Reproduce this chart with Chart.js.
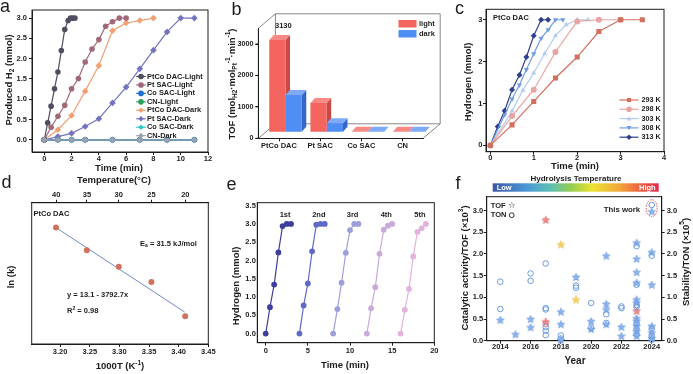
<!DOCTYPE html>
<html>
<head>
<meta charset="utf-8">
<script src="https://cdn.jsdelivr.net/npm/chart.js@4.4.1/dist/chart.umd.min.js"></script>
<style>
    html, body { margin: 0; padding: 0; background: #fff; }
    #figure { position: relative; width: 693px; height: 374px; overflow: hidden; }
    #figure canvas { position: absolute; left: 0; top: 0; }
</style>
</head>
<body>
<div id="figure">
    <canvas id="panelA" width="693" height="374"></canvas>
    <canvas id="panelB" width="693" height="374"></canvas>
    <canvas id="panelC" width="693" height="374"></canvas>
    <canvas id="panelD" width="693" height="374"></canvas>
    <canvas id="panelE" width="693" height="374"></canvas>
    <canvas id="panelF" width="693" height="374"></canvas>
    <canvas id="overlay" width="693" height="374"></canvas>
</div>
<script>
// ---- a: produced H2 vs time, light / dark ----
const aTimePtCoLight = [0, 0.25, 0.5, 0.75, 1, 1.25, 1.5, 1.75, 1.92, 2.08, 2.25];
const aH2PtCoLight = [0, 0.42, 0.83, 1.26, 1.67, 2.2, 2.72, 2.94, 3.0, 3.0, 3.0];
const aTimePtLight = [0, 0.5, 1, 1.5, 2, 2.5, 3, 3.5, 4, 4.5, 5, 5.5, 6];
const aH2PtLight = [0, 0.31, 0.58, 0.85, 1.26, 1.51, 1.92, 2.24, 2.47, 2.8, 2.91, 3.0, 3.0];
const aTimePtCoDark = [0, 1, 2, 3, 4, 5, 6, 7, 8];
const aH2PtCoDark = [0, 0.25, 0.6, 1.2, 1.83, 2.69, 2.88, 2.94, 3.0];
const aTimePtDark = [0, 1, 2, 3, 4, 5, 6, 7, 8, 9, 10, 11];
const aH2PtDark = [0, 0.08, 0.16, 0.33, 0.52, 0.91, 1.3, 1.75, 2.21, 2.66, 3.0, 3.0];
const aTimeInactive = [0, 1, 2, 3, 5, 7, 9, 11];
const aH2Inactive = [0, 0, 0, 0, 0, 0, 0, 0];
const aTimeTicks = [0, 2, 4, 6, 8, 10, 12];
const aH2Ticks = [0, 0.5, 1, 1.5, 2, 2.5, 3];

// ---- b: TOF bars ----
const bCatalysts = ['PtCo DAC', 'Pt SAC', 'Co SAC', 'CN'];
const bTofLight = [3130, 1120, 0, 0];
const bTofDark = [1380, 480, 0, 0];
const bTofTicks = [0, 1000, 2000, 3000];

// ---- c: H2 vs time at several temperatures ----
const cTime293 = [0, 0.5, 1, 1.5, 2, 2.5, 3, 3.5];
const cH2293 = [0, 0.49, 1.05, 1.61, 2.11, 2.72, 3.0, 3.0];
const cTime298 = [0, 0.5, 1, 1.5, 2, 2.5, 3];
const cH2298 = [0, 0.7, 1.33, 2.23, 2.96, 3.0, 3.0];
const cTime303 = [0, 0.5, 0.75, 1, 1.25, 1.5, 1.75, 2, 2.25];
const cH2303 = [0, 0.82, 1.32, 1.73, 2.19, 2.62, 2.88, 3.0, 3.0];
const cTime308 = [0, 0.33, 0.5, 0.67, 0.83, 1, 1.17, 1.33, 1.5, 1.67];
const cH2308 = [0, 0.73, 1.11, 1.44, 1.81, 2.19, 2.56, 2.76, 3.0, 3.0];
const cTime313 = [0, 0.17, 0.33, 0.5, 0.67, 0.83, 1, 1.17, 1.33];
const cH2313 = [0, 0.45, 0.83, 1.33, 1.68, 2.11, 2.62, 3.0, 3.0];
const cTimeTicks = [0, 1, 2, 3, 4];
const cH2Ticks = [0, 1, 2, 3];

// ---- d: Arrhenius plot ----
const dInvT = [3.193, 3.245, 3.299, 3.354, 3.411];
const dLnK = [0.98, 0.76, 0.6, 0.45, 0.12];
const dFitInvT = [3.19, 3.41];
const dFitLnK = [0.99, 0.16];
const dInvTTicks = [3.2, 3.25, 3.3, 3.35, 3.4, 3.45];
const dTempTicks = [40, 35, 30, 25, 20];

// ---- e: recycling runs ----
const eCycles = ['1st', '2nd', '3rd', '4th', '5th'];
const eTime1 = [0, 0.5, 1, 1.5, 2, 2.5, 3];
const eH21 = [0, 0.72, 1.34, 2.22, 2.94, 3.0, 3.0];
const eTime2 = [4, 4.5, 5, 5.5, 6, 6.5, 7];
const eH22 = [0, 0.77, 1.37, 2.25, 2.98, 3.0, 3.0];
const eTime3 = [8, 8.5, 9, 9.5, 10, 10.5, 11];
const eH23 = [0, 0.67, 1.39, 2.21, 2.83, 3.0, 3.0];
const eTime4 = [12, 12.5, 13, 13.5, 14, 14.5, 15];
const eH24 = [0, 0.69, 1.27, 2.18, 2.84, 2.95, 3.0];
const eTime5 = [16, 16.5, 17, 17.5, 18, 18.5, 19];
const eH25 = [0, 0.65, 1.22, 2.11, 2.78, 2.88, 3.0];
const eTimeTicks = [0, 5, 10, 15, 20];
const eH2Ticks = [0, 0.5, 1, 1.5, 2, 2.5, 3, 3.5];

// ---- f: literature comparison (TOF x10^3, TON x10^5) ----
const fTofBlueYear = [2014, 2015, 2016, 2016, 2018, 2018, 2018, 2019, 2020, 2020, 2021, 2021, 2021, 2021, 2022, 2022,
    2023, 2023, 2023, 2023, 2023, 2023, 2023, 2023, 2023, 2023, 2023, 2024, 2024, 2024, 2024, 2024];
const fTofBlueVal = [0.48, 0.15, 0.5, 0.31, 0.67, 0.38, 0.02, 1.47, 0.45, 0.27, 1.96, 0.85, 0.72, 0.38, 0.32, 0.11,
    2.26, 1.89, 1.58, 1.34, 0.95, 0.88, 0.52, 0.46, 0.34, 0.22, 0.11, 2.04, 1.29, 0.34, 0.19, 0.06];
const fTonBlueYear = [2014, 2014, 2016, 2016, 2017, 2017, 2017, 2017, 2017, 2017, 2018, 2018, 2019, 2019, 2020, 2020,
    2021, 2021, 2022, 2022, 2023, 2023, 2023, 2023, 2023, 2023, 2023, 2024, 2024, 2024, 2024];
const fTonBlueVal = [1.36, 0.73, 1.55, 1.38, 1.78, 0.75, 0.72, 0.31, 0.23, 0.13, 0.12, 0.05, 1.27, 1.22, 0.87, 0.3,
    0.61, 0.41, 0.79, 0.75, 2.18, 1.29, 0.82, 0.78, 0.4, 0.28, 0.15, 1.96, 0.28, 0.12, 0.02];
const fTofRedYear = [2017, 2017, 2023];
const fTofRedVal = [2.79, 0.44, 0.69];
const fTonRedYear = [2017];
const fTonRedVal = [0.39];
const fTofYellowYear = [2018, 2019];
const fTofYellowVal = [2.22, 0.95];
const fThisWorkYear = [2024];
const fThisWorkTon = [3.13];
const fThisWorkTof = [2.98];
const fYearTicks = [2014, 2016, 2018, 2020, 2022, 2024];
const fValueTicks = [0, 0.5, 1, 1.5, 2, 2.5, 3];

const FONT = '"Liberation Sans", Arial, "DejaVu Sans", sans-serif';
const INK = '#1c1c1c';
const PAGE_W = 693;
const PAGE_H = 374;

Chart.defaults.font.family = FONT;
Chart.defaults.font.weight = 'bold';
Chart.defaults.font.size = 7.5;
Chart.defaults.color = INK;
Chart.defaults.animation = false;
Chart.defaults.responsive = false;
Chart.defaults.plugins.legend.display = false;
Chart.defaults.plugins.tooltip.enabled = false;

const fixed1 = v => v.toFixed(1);
const fixed2 = v => v.toFixed(2);
const plain = v => String(v);

/**
 * Zip two arrays into {x, y} points
 */
function pts(xs, ys) {
    return xs.map((x, i) => ({ x: x, y: ys[i] }));
}

/**
 * Layout padding that puts the plot area at page coordinates (axes have fixed thickness)
 */
function placeArea(left, top, right, bottom, axes) {
    return {
        left: left - (axes.left || 0),
        top: top - (axes.top || 0),
        right: PAGE_W - right - (axes.right || 0),
        bottom: PAGE_H - bottom - (axes.bottom || 0)
    };
}

/**
 * Linear axis with fixed tick list and fixed thickness
 */
function linAxis(position, min, max, ticks, size, fmt, pad, tickLen, fontSize) {
    return {
        type: 'linear',
        display: true,
        position: position,
        min: min,
        max: max,
        afterBuildTicks: scale => { scale.ticks = ticks.map(v => ({ value: v })); },
        afterFit: scale => {
            if (scale.isHorizontal()) scale.height = size; else scale.width = size;
        },
        grid: { drawOnChartArea: false, tickLength: tickLen === undefined ? 3 : tickLen, color: INK, lineWidth: 1 },
        border: { color: INK, width: 1 },
        ticks: {
            display: true, padding: pad, autoSkip: false, maxRotation: 0, callback: fmt,
            font: { size: fontSize || 7.5, weight: 'bold' }
        }
    };
}

/**
 * Text with sub/superscript pieces; parts are strings or [text, 'sub'|'sup']
 */
function richText(ctx, parts, x, y, size, opt) {
    opt = opt || {};
    const weight = opt.weight || 'bold';
    const pieces = parts.map(p => typeof p === 'string'
        ? { text: p, size: size, shift: 0 }
        : { text: p[0], size: size * 0.68, shift: p[1] === 'sub' ? size * 0.3 : -size * 0.38 });
    let total = 0;
    pieces.forEach(p => {
        ctx.font = `${weight} ${p.size}px ${FONT}`;
        p.width = ctx.measureText(p.text).width;
        total += p.width;
    });
    ctx.save();
    ctx.translate(x, y);
    if (opt.rotate) ctx.rotate(-Math.PI / 2);
    ctx.fillStyle = opt.color || INK;
    ctx.textBaseline = 'middle';
    ctx.textAlign = 'left';
    let cx = opt.align === 'left' ? 0 : opt.align === 'right' ? -total : -total / 2;
    pieces.forEach(p => {
        ctx.font = `${weight} ${p.size}px ${FONT}`;
        ctx.fillText(p.text, cx, p.shift);
        cx += p.width;
    });
    ctx.restore();
}

/**
 * Marker shape for hand-drawn legends
 */
function marker(ctx, style, x, y, r, color, rotation) {
    ctx.save();
    ctx.translate(x, y);
    ctx.rotate((rotation || 0) * Math.PI / 180);
    ctx.beginPath();
    if (style === 'rect') {
        ctx.rect(-r * 0.75, -r * 0.75, r * 1.5, r * 1.5);
    } else if (style === 'rectRot') {
        ctx.moveTo(0, -r); ctx.lineTo(r, 0); ctx.lineTo(0, r); ctx.lineTo(-r, 0); ctx.closePath();
    } else if (style === 'triangle') {
        for (let k = 0; k < 3; k++) {
            const a = -Math.PI / 2 + k * 2 * Math.PI / 3;
            ctx.lineTo(r * Math.cos(a), r * Math.sin(a) + r * 0.15);
        }
        ctx.closePath();
    } else {
        ctx.arc(0, 0, r, 0, Math.PI * 2);
    }
    ctx.fillStyle = color;
    ctx.fill();
    ctx.restore();
}

/**
 * Legend built from the chart's datasets: line + marker + label
 */
function lineLegend(chart, x, y, step, half, textX, size) {
    const ctx = chart.ctx;
    chart.data.datasets.forEach((ds, i) => {
        const yy = y + i * step;
        ctx.strokeStyle = ds.borderColor;
        ctx.lineWidth = 1.2;
        ctx.beginPath();
        ctx.moveTo(x - half, yy);
        ctx.lineTo(x + half, yy);
        ctx.stroke();
        marker(ctx, ds.pointStyle, x, yy, 2.8, ds.borderColor, ds.pointRotation);
        richText(ctx, [ds.label], textX, yy, size, { align: 'left' });
    });
}

/**
 * Filled five-point star used as point style
 */
function starImage(fill, stroke, r) {
    const c = document.createElement('canvas');
    const s = Math.ceil(r * 2 + 2);
    c.width = s;
    c.height = s;
    const g = c.getContext('2d');
    g.beginPath();
    for (let i = 0; i < 10; i++) {
        const rad = i % 2 ? r * 0.45 : r;
        const a = -Math.PI / 2 + i * Math.PI / 5;
        g.lineTo(s / 2 + rad * Math.cos(a), s / 2 + rad * Math.sin(a) + 0.4);
    }
    g.closePath();
    g.fillStyle = fill;
    g.fill();
    g.strokeStyle = stroke;
    g.lineWidth = 0.7;
    g.stroke();
    return c;
}

// Box around the plot area (Origin style)
const frame = {
    id: 'frame',
    beforeDatasetsDraw(chart) {
        const { ctx, chartArea: a } = chart;
        ctx.save();
        ctx.strokeStyle = INK;
        ctx.lineWidth = 1;
        ctx.strokeRect(a.left, a.top, a.right - a.left, a.bottom - a.top);
        ctx.restore();
    }
};

function decor(fn) {
    return { id: 'decor', afterDraw: chart => fn(chart.ctx, chart) };
}

function panelLetter(ctx, letter, x, y) {
    richText(ctx, [letter], x, y, 18, { weight: 'normal', align: 'left' });
}

/* ================= a ================= */
const A_COLORS = ['#4e4e60', '#a06878', '#1f6fd8', '#2aa05a', '#f2a070', '#7373c0', '#2cc8c8', '#9aa2ae'];

function aSeries(label, xs, ys, color, style, order) {
    return {
        label: label, data: pts(xs, ys), borderColor: color, backgroundColor: color,
        borderWidth: 1.2, pointStyle: style, pointRadius: style === 'rectRot' ? 3.3 : 2.8,
        pointBorderWidth: 0, tension: 0, order: order || 0
    };
}

new Chart(document.getElementById('panelA'), {
    type: 'line',
    data: {
        datasets: [
            aSeries('PtCo DAC-Light', aTimePtCoLight, aH2PtCoLight, A_COLORS[0], 'circle'),
            aSeries('Pt SAC-Light', aTimePtLight, aH2PtLight, A_COLORS[1], 'circle'),
            aSeries('Co SAC-Light', aTimeInactive, aH2Inactive, A_COLORS[2], 'circle'),
            aSeries('CN-Light', aTimeInactive, aH2Inactive, A_COLORS[3], 'circle'),
            aSeries('PtCo DAC-Dark', aTimePtCoDark, aH2PtCoDark, A_COLORS[4], 'rectRot'),
            aSeries('Pt SAC-Dark', aTimePtDark, aH2PtDark, A_COLORS[5], 'rectRot'),
            aSeries('Co SAC-Dark', aTimeInactive, aH2Inactive, A_COLORS[6], 'rectRot'),
            aSeries('CN-Dark', aTimeInactive, aH2Inactive, A_COLORS[7], 'rectRot', -1)
        ]
    },
    options: {
        layout: { padding: placeArea(32, 10, 208, 152, { left: 16, bottom: 12 }) },
        scales: {
            x: linAxis('bottom', -0.9, 12, aTimeTicks, 12, plain, -1),
            y: linAxis('left', -0.3, 3.2, aH2Ticks, 16, fixed1, 2)
        }
    },
    plugins: [frame, decor((ctx, chart) => {
        panelLetter(ctx, 'a', 0, 7);
        richText(ctx, ['Produced H', ['2', 'sub'], ' (mmol)'], 9, 80, 9.5, { rotate: true });
        richText(ctx, ['Time (min)'], 119, 168, 9.5);
        lineLegend(chart, 141, 76.5, 8.45, 4.8, 147, 7.4);
    })]
});

/* ================= b ================= */
const B_SHADES = [
    { front: '#f4655f', side: '#c84a47', top: '#f88a86' },
    { front: '#4f8ef5', side: '#3467c8', top: '#7eaaf8' }
];
const BAR_SHIFT = 6.5;    // bars stand half way into the 3D box
const FLOOR_LIFT = 6.6;
const FACE_DX = 4.5;
const FACE_DY = -5;
const BOX_DX = 17;
const BOX_DY = -14.5;

const bars3d = {
    id: 'bars3d',
    beforeDatasetsDraw(chart) {
        const { ctx, chartArea: a, scales: { y } } = chart;
        const floor = y.getPixelForValue(0) - FLOOR_LIFT;
        // back walls of the 3D box
        ctx.save();
        ctx.strokeStyle = '#6a6a6a';
        ctx.lineWidth = 0.8;
        ctx.beginPath();
        ctx.moveTo(a.left, a.top); ctx.lineTo(a.left + BOX_DX, a.top + BOX_DY);
        ctx.lineTo(a.right + BOX_DX, a.top + BOX_DY); ctx.lineTo(a.right + BOX_DX, a.bottom + BOX_DY);
        ctx.lineTo(a.left + BOX_DX, a.bottom + BOX_DY); ctx.lineTo(a.left + BOX_DX, a.top + BOX_DY);
        ctx.moveTo(a.left, a.bottom); ctx.lineTo(a.left + BOX_DX, a.bottom + BOX_DY);
        ctx.moveTo(a.right, a.bottom); ctx.lineTo(a.right + BOX_DX, a.bottom + BOX_DY);
        ctx.stroke();
        ctx.restore();

        ctx.save();
        ctx.translate(BAR_SHIFT, 0);
        chart.data.labels.forEach((_, i) => {
            chart.data.datasets.forEach((ds, d) => {
                const el = chart.getDatasetMeta(d).data[i];
                const left = el.x - el.width / 2;
                const right = el.x + el.width / 2;
                const top = Math.min(el.y, floor);
                ctx.fillStyle = B_SHADES[d].side;
                ctx.beginPath();
                ctx.moveTo(right, top); ctx.lineTo(right + FACE_DX, top + FACE_DY);
                ctx.lineTo(right + FACE_DX, floor + FACE_DY); ctx.lineTo(right, floor);
                ctx.closePath();
                ctx.fill();
                ctx.fillStyle = B_SHADES[d].top;
                ctx.beginPath();
                ctx.moveTo(left, top); ctx.lineTo(left + FACE_DX, top + FACE_DY);
                ctx.lineTo(right + FACE_DX, top + FACE_DY); ctx.lineTo(right, top);
                ctx.closePath();
                ctx.fill();
            });
        });
        ctx.beginPath();
        ctx.rect(a.left - 20, a.top - 20, a.right - a.left + 40, floor - a.top + 20);
        ctx.clip();
    },
    afterDatasetsDraw(chart) {
        chart.ctx.restore();
    }
};

const bValueAxis = linAxis('left', 0, 3500, bTofTicks, 22, plain, 2, 3, 7);
bValueAxis.ticks.display = false;   // value labels go on the overlay canvas

new Chart(document.getElementById('panelB'), {
    type: 'bar',
    data: {
        labels: bCatalysts,
        datasets: [
            { label: 'light', data: bTofLight, backgroundColor: B_SHADES[0].front },
            { label: 'dark', data: bTofDark, backgroundColor: B_SHADES[1].front }
        ]
    },
    options: {
        layout: { padding: placeArea(258.4, 28.3, 423.2, 138.3, { left: 22, bottom: 12 }) },
        datasets: { bar: { categoryPercentage: 0.79, barPercentage: 1 } },
        scales: {
            x: {
                afterFit: scale => { scale.height = 12; },
                grid: { drawOnChartArea: false, offset: false, tickLength: 3, color: INK },
                border: { color: INK, width: 1 },
                ticks: { padding: 0, maxRotation: 0, autoSkip: false }
            },
            y: bValueAxis
        }
    },
    plugins: [bars3d, decor((ctx, chart) => {
        const { y } = chart.scales;
        const a = chart.chartArea;
        panelLetter(ctx, 'b', 231.5, 10.4);
        // value axis line, ticks and labels on the top canvas
        const over = document.getElementById('overlay').getContext('2d');
        over.save();
        over.strokeStyle = INK;
        over.lineWidth = 1;
        over.beginPath();
        over.moveTo(a.left, a.top);
        over.lineTo(a.left, a.bottom);
        bTofTicks.forEach(v => {
            over.moveTo(a.left - 3, y.getPixelForValue(v));
            over.lineTo(a.left, y.getPixelForValue(v));
        });
        over.stroke();
        over.restore();
        bTofTicks.forEach(v => {
            richText(over, [plain(v)], a.left - 5, y.getPixelForValue(v), 7.2, { align: 'right' });
        });
        richText(ctx, ['TOF (mol', ['H2', 'sub'], '·mol', ['Pt', 'sub'], ['-1', 'sup'], '·min', ['-1', 'sup'], ')'],
            232, 84, 9.5, { rotate: true });
        const top = chart.getDatasetMeta(0).data[0];
        richText(ctx, [String(bTofLight[0])], top.x + BAR_SHIFT + 6, top.y - 14, 7.5);
        chart.data.datasets.forEach((ds, i) => {
            ctx.fillStyle = ds.backgroundColor;
            ctx.fillRect(398.5, 20 + i * 10, 18, 7.5);
            richText(ctx, [ds.label], 419, 23.8 + i * 10, 7.5, { align: 'left' });
        });
    })]
});

/* ================= c ================= */
function cSeries(label, xs, ys, color, style, rotation) {
    return {
        label: label, data: pts(xs, ys), borderColor: color, backgroundColor: color,
        borderWidth: 1.2, pointStyle: style, pointRotation: rotation || 0,
        pointRadius: style === 'rect' ? 3.6 : 3, pointBorderWidth: 0, tension: 0
    };
}

new Chart(document.getElementById('panelC'), {
    type: 'line',
    data: {
        datasets: [
            cSeries('293 K', cTime293, cH2293, '#d2705f', 'rect'),
            cSeries('298 K', cTime298, cH2298, '#eaa3a3', 'circle'),
            cSeries('303 K', cTime303, cH2303, '#b4cdef', 'triangle'),
            cSeries('308 K', cTime308, cH2308, '#6f9ce2', 'triangle', 180),
            cSeries('313 K', cTime313, cH2313, '#2f3f8c', 'rectRot')
        ]
    },
    options: {
        layout: { padding: placeArea(486, 9.3, 664, 151.7, { left: 14, bottom: 12 }) },
        scales: {
            x: linAxis('bottom', -0.1, 4, cTimeTicks, 12, plain, -1),
            y: linAxis('left', -0.15, 3.25, cH2Ticks, 14, plain, 0.5)
        }
    },
    plugins: [frame, decor((ctx, chart) => {
        panelLetter(ctx, 'c', 455, 8.7);
        richText(ctx, ['Hydrogen (mmol)'], 468, 82, 9.5, { rotate: true });
        richText(ctx, ['Time (min)'], 575, 166, 9.5);
        richText(ctx, ['PtCo DAC'], 493, 17.5, 7.5, { align: 'left' });
        lineLegend(chart, 629, 100, 9.3, 9.5, 641.5, 7.2);
    })]
});

/* ================= d ================= */
new Chart(document.getElementById('panelD'), {
    type: 'line',
    data: {
        datasets: [
            {
                data: pts(dInvT, dLnK), showLine: false, pointRadius: 3, pointBorderWidth: 0,
                backgroundColor: '#cf7260', borderColor: '#cf7260'
            },
            {
                data: pts(dFitInvT, dFitLnK), pointRadius: 0, borderColor: '#6f88c8', borderWidth: 1
            }
        ]
    },
    options: {
        layout: { padding: placeArea(31.7, 202.7, 208.3, 344, { top: 12, bottom: 12 }) },
        scales: {
            x: linAxis('bottom', 3.152, 3.45, dInvTTicks, 12, fixed2, 0.5),
            x2: Object.assign(linAxis('top', 3.152, 3.45, [], 12, v => String(Math.round(1000 / v - 273.15)), 0.5), {
                afterBuildTicks: scale => { scale.ticks = dTempTicks.map(t => ({ value: 1000 / (t + 273.15) })); }
            }),
            y: { display: false, min: -0.15, max: 1.22 }
        }
    },
    plugins: [frame, decor(ctx => {
        panelLetter(ctx, 'd', 1.5, 182.7);
        richText(ctx, ['Temperature(°C)'], 114, 180.5, 9.5);
        richText(ctx, ['1000T (K', ['-1', 'sup'], ')'], 120, 366.5, 9.5);
        richText(ctx, ['ln (k)'], 11, 277, 9.5, { rotate: true });
        richText(ctx, ['PtCo DAC'], 33.5, 213.5, 7.5, { align: 'left' });
        richText(ctx, ['E', ['a', 'sub'], ' = 31.5 kJ/mol'], 140, 243.5, 7.5, { align: 'left' });
        richText(ctx, ['y = 13.1 - 3792.7x'], 67, 295, 7.5, { align: 'left' });
        richText(ctx, ['R', ['2', 'sup'], ' = 0.98'], 67, 311, 7.5, { align: 'left' });
    })]
});

/* ================= e ================= */
const E_COLORS = ['#3d3d9c', '#5f69c6', '#9d9fda', '#c9aadb', '#e3b3dd'];
const eTimes = [eTime1, eTime2, eTime3, eTime4, eTime5];
const eH2s = [eH21, eH22, eH23, eH24, eH25];

new Chart(document.getElementById('panelE'), {
    type: 'line',
    data: {
        datasets: eCycles.map((name, i) => ({
            label: name, data: pts(eTimes[i], eH2s[i]), borderColor: E_COLORS[i], backgroundColor: E_COLORS[i],
            borderWidth: 1.2, pointRadius: 2.9, pointBorderWidth: 0, tension: 0
        }))
    },
    options: {
        layout: { padding: placeArea(257.3, 202.7, 434.3, 342.7, { left: 16, bottom: 12 }) },
        scales: {
            x: linAxis('bottom', -1, 20, eTimeTicks, 12, plain, 0.5),
            y: linAxis('left', -0.25, 3.58, eH2Ticks, 16, fixed1, 1.5, 0)
        }
    },
    plugins: [frame, decor((ctx, chart) => {
        panelLetter(ctx, 'e', 226.5, 185.4);
        richText(ctx, ['Hydrogen (mmol)'], 236, 286, 9.5, { rotate: true });
        richText(ctx, ['Time (min)'], 345, 365, 9.5);
        const { x, y } = chart.scales;
        eCycles.forEach((name, i) => {
            richText(ctx, [name], x.getPixelForValue(eTimes[i][0] + 2.3), y.getPixelForValue(3.25), 7.5);
        });
    })]
});

/* ================= f ================= */
const F_BLUE = '#6b9be2';
const starBlue = starImage('#8db4ec', '#6b9be2', 4);
const starRed = starImage('#ee8c8a', '#e06a68', 4);
const starYellow = starImage('#f3d56c', '#e6bf48', 4);

function ring(xs, ys, color) {
    return {
        data: pts(xs, ys), pointStyle: 'circle', pointRadius: 2.8, borderWidth: 1,
        borderColor: color, backgroundColor: 'rgba(255,255,255,0)'
    };
}

function stars(xs, ys, img) {
    return { data: pts(xs, ys), pointStyle: img, pointRadius: 4 };
}

new Chart(document.getElementById('panelF'), {
    type: 'scatter',
    data: {
        datasets: [
            ring(fTonBlueYear, fTonBlueVal, F_BLUE),
            stars(fTofBlueYear, fTofBlueVal, starBlue),
            ring(fTonRedYear, fTonRedVal, '#e27c7a'),
            stars(fTofRedYear, fTofRedVal, starRed),
            stars(fTofYellowYear, fTofYellowVal, starYellow),
            ring(fThisWorkYear, fThisWorkTon, F_BLUE),
            stars(fThisWorkYear, fThisWorkTof, starBlue)
        ]
    },
    options: {
        layout: { padding: placeArea(486.7, 196.7, 661.7, 340.7, { left: 16, right: 16, bottom: 12 }) },
        datasets: { scatter: { clip: false } },
        scales: {
            x: linAxis('bottom', 2013.1, 2024.66, fYearTicks, 12, plain, -1),
            y: linAxis('left', 0, 3.32, fValueTicks, 16, fixed1, 0.5),
            y2: linAxis('right', 0, 3.32, fValueTicks, 16, fixed1, 2)
        }
    },
    plugins: [frame, decor((ctx, chart) => {
        const a = chart.chartArea;
        panelLetter(ctx, 'f', 455.5, 183.7);
        // temperature colour bar
        richText(ctx, ['Hydrolysis Temperature'], 576, 178.5, 8);
        const g = ctx.createLinearGradient(a.left + 6, 0, a.right - 3, 0);
        g.addColorStop(0, '#3b56a6');
        g.addColorStop(0.2, '#4a98d6');
        g.addColorStop(0.35, '#5ec0b4');
        g.addColorStop(0.47, '#93cc4e');
        g.addColorStop(0.6, '#ece232');
        g.addColorStop(0.76, '#f2a83a');
        g.addColorStop(0.9, '#ec5a42');
        g.addColorStop(1, '#e0284e');
        ctx.fillStyle = g;
        ctx.fillRect(a.left + 6, a.top - 13.4, a.right - a.left - 9, 8.4);
        richText(ctx, ['Low'], a.left + 10, a.top - 9.2, 7.5, { align: 'left', color: '#fff' });
        richText(ctx, ['High'], a.right - 6, a.top - 9.2, 7.5, { align: 'right', color: '#fff' });

        richText(ctx, ['Catalytic activity/TOF (×10', ['3', 'sup'], ')'], 465, 268, 9.5, { rotate: true });
        richText(ctx, ['Stability/TON (×10', ['5', 'sup'], ')'], 686, 262, 9.5, { rotate: true });
        richText(ctx, ['Year'], 575, 361.5, 10);

        richText(ctx, ['TOF'], a.left + 4, a.top + 9.5, 7.5, { align: 'left' });
        richText(ctx, ['TON'], a.left + 4, a.top + 18.5, 7.5, { align: 'left' });
        ctx.fillStyle = INK;
        ctx.textBaseline = 'middle';
        ctx.textAlign = 'center';
        ctx.font = '8.5px "DejaVu Sans"';
        ctx.fillText('☆', a.left + 25, a.top + 9.3);
        ctx.strokeStyle = INK;
        ctx.lineWidth = 0.9;
        ctx.beginPath();
        ctx.arc(a.left + 25, a.top + 18.5, 2.4, 0, Math.PI * 2);
        ctx.stroke();

        // "This work" marker
        const { x, y } = chart.scales;
        const cx = x.getPixelForValue(fThisWorkYear[0]);
        const cy = (y.getPixelForValue(fThisWorkTon[0]) + y.getPixelForValue(fThisWorkTof[0])) / 2;
        richText(ctx, ['This work'], cx - 11.5, cy + 1.5, 7.8, { align: 'right' });
        ctx.save();
        ctx.strokeStyle = '#e03434';
        ctx.lineWidth = 0.9;
        ctx.setLineDash([1.4, 1.2]);
        ctx.beginPath();
        ctx.ellipse(cx, cy, 5.5, 8.5, 0, 0, Math.PI * 2);
        ctx.stroke();
        ctx.restore();
    })]
});
</script>
</body>
</html>
